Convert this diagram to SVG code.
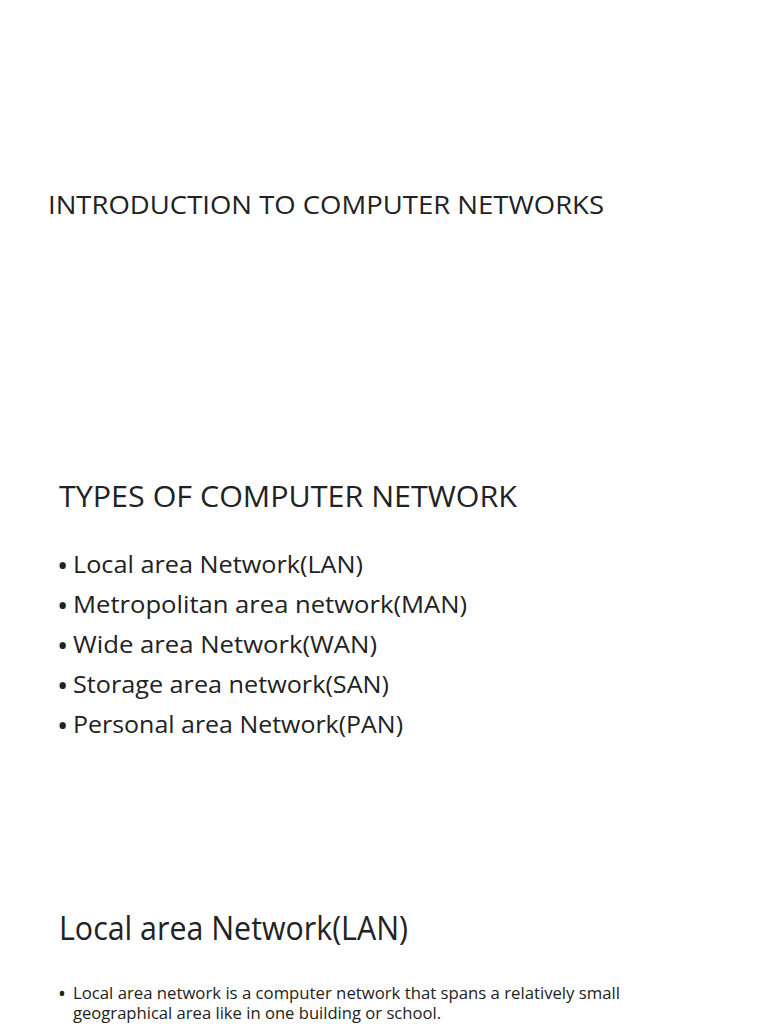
<svg xmlns="http://www.w3.org/2000/svg" width="768" height="1024" viewBox="0 0 768 1024">
<style>
text{font-family:"Open Sans","Liberation Sans",sans-serif;fill:#222}
.b{font-size:23px}
.s{font-size:16px}
.d{font-size:30px}
.ds{font-size:21px}
</style>
<rect width="768" height="1024" fill="#fff"/>
<g id="title"><text x="48" y="214" font-size="26" textLength="556" lengthAdjust="spacingAndGlyphs">INTRODUCTION TO COMPUTER NETWORKS</text></g>
<g id="types">
<text x="59" y="507" font-size="30" textLength="458" lengthAdjust="spacingAndGlyphs">TYPES OF COMPUTER NETWORK</text>
<text class="d" x="57" y="576">•</text><text class="b" x="73" y="573" textLength="290" lengthAdjust="spacingAndGlyphs">Local area Network(LAN)</text>
<text class="d" x="57" y="616">•</text><text class="b" x="73" y="613" textLength="394" lengthAdjust="spacingAndGlyphs">Metropolitan area network(MAN)</text>
<text class="d" x="57" y="656">•</text><text class="b" x="73" y="653" textLength="304" lengthAdjust="spacingAndGlyphs">Wide area Network(WAN)</text>
<text class="d" x="57" y="696">•</text><text class="b" x="73" y="693" textLength="316" lengthAdjust="spacingAndGlyphs">Storage area network(SAN)</text>
<text class="d" x="57" y="736">•</text><text class="b" x="73" y="733" textLength="330" lengthAdjust="spacingAndGlyphs">Personal area Network(PAN)</text>
</g>
<g id="lan">
<text x="59" y="940" font-size="32" textLength="349" lengthAdjust="spacingAndGlyphs">Local area Network(LAN)</text>
<text class="ds" x="58" y="1001">•</text><text class="s" x="73" y="999" textLength="547" lengthAdjust="spacingAndGlyphs">Local area network is a computer network that spans a relatively small</text>
<text class="s" x="73" y="1019" textLength="368" lengthAdjust="spacingAndGlyphs">geographical area like in one building or school.</text>
</g>
</svg>
